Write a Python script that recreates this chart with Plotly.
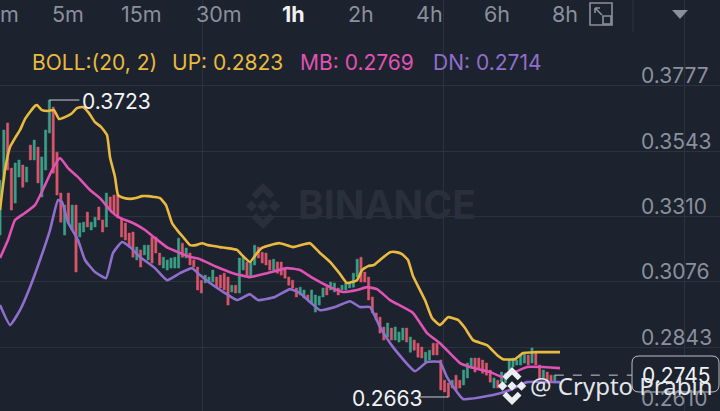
import plotly.graph_objects as go

BG = "#1c222e"
GRID = "#2c323e"
AXIS_TEXT = "#8a909c"
YELLOW = "#e9ba3f"
PINK = "#e052b4"
PURPLE = "#8f6fcb"
RED = "#d9566b"
GREEN = "#3c9f87"
FONT = "Inter"

TABS = ["m", "5m", "15m", "30m", "1h", "2h", "4h", "6h", "8h"]
Y_TICKS = [0.3777, 0.3543, 0.3310, 0.3076, 0.2843, 0.2610]

CANDLE_SPACING = 0.76
OPEN = [.3243,.3439,.3643,.3482,.3357,.3450,.3493,.3432,.3564,.3511,.3557,.3379,.3475,.3607,.3700,.3539,.3393,.3243,.3393,.3261,.3350,.3236,.3254,.3325,.3261,.3272,.3343,.3297,.3272,.3379,.3386,.3386,.3304,.3286,.3250,.3254,.3154,.3190,.3172,.3154,.3236,.3236,.3179,.3125,.3118,.3125,.3125,.3125,.3214,.3161,.3179,.3154,.3129,
        .3082,.3072,.3072,.3075,.3093,.3100,.3107,.3093,.3040,.3064,.3036,.3118,.3147,.3093,.3136,.3200,.3182,.3179,.3154,.3118,.3147,.3147,.3125,.3093,.3082,.3054,.3029,.3018,.3029,.3000,.2968,.2993,.3022,.3057,.3047,.3040,.3054,.3047,.3047,.3054,.3057,.3093,.3164,.3111,.3093,.3022,.2965,.2950,.2915,.2879,.2911,.2868,
        .2861,.2868,.2911,.2825,.2868,.2857,.2843,.2790,.2797,.2857,.2857,.2797,.2725,.2715,.2697,.2743,.2725,.2708,.2733,.2768,.2804,.2804,.2797,.2786,.2761,.2697,.2725,.2718,.2715,.2761,.2772,.2779,.2779,.2786,.2815,.2786,.2825,.2779,.2733,.2754,.2743,.2715]
CLOSE = [.3439,.3618,.3475,.3332,.3500,.3511,.3414,.3486,.3511,.3582,.3429,.3522,.3618,.3725,.3464,.3386,.3289,.3350,.3286,.3350,.3111,.3286,.3289,.3272,.3289,.3307,.3297,.3254,.3393,.3332,.3322,.3304,.3236,.3225,.3200,.3164,.3200,.3129,.3207,.3207,.3143,.3179,.3136,.3164,.3154,.3161,.3164,.3232,.3164,.3197,.3136,.3129,.3047,
         .3036,.3100,.3093,.3118,.3057,.3054,.3047,.2993,.3064,.3036,.3161,.3164,.3100,.3147,.3207,.3161,.3143,.3136,.3118,.3157,.3107,.3100,.3089,.3064,.3054,.3022,.3057,.3047,.3011,.3047,.3029,.3025,.3054,.3029,.3075,.3072,.3029,.3064,.3072,.3072,.3107,.3157,.3075,.3075,.3011,.2965,.2940,.2893,.2868,.2929,.2868,.2915,
         .2897,.2911,.2861,.2879,.2832,.2807,.2804,.2825,.2832,.2815,.2815,.2690,.2683,.2665,.2725,.2690,.2697,.2761,.2786,.2804,.2754,.2768,.2750,.2743,.2718,.2733,.2697,.2754,.2750,.2797,.2804,.2797,.2815,.2825,.2779,.2840,.2779,.2733,.2761,.2715,.2718,.2743]

UP_T = [0,1,2,3,4,5,6,7,7.4,8.4,9.6,10.8,11.8,13,14.2,15.4,16.6,17.8,19,20.2,21.4,22,23,23.6,24.8,26,27.2,28.4,29.6,30.8,32,33.2,34.4,35.6,36.8,38,39.2,40.4,41.6,42.8,44,45.2,47.4,48.6,50,51.4,52.4,54,56,58.6,61,62,64,66,68,69.4,71.4,72.4,73.6,74.8,76,78,79.2,80.4,81.6,82.6,85,86.4,88,89.6,91.6,93,94.6,97.4,99.4,100.6,103,104.6,107,112]
UP = [.3332,.3475,.3557,.3589,.3618,.3657,.3682,.3704,.3707,.3689,.3686,.3689,.3657,.3664,.3675,.3696,.3700,.3678,.3646,.3629,.3600,.3521,.3450,.3386,.3375,.3372,.3375,.3382,.3382,.3379,.3375,.3350,.3286,.3257,.3232,.3207,.3207,.3214,.3207,.3204,.3200,.3197,.3190,.3168,.3147,.3179,.3197,.3207,.3214,.3200,.3211,.3214,.3179,.3147,.3104,.3072,.3082,.3118,.3132,.3136,.3154,.3182,.3182,.3175,.3154,.3097,.3011,.2947,.2922,.2950,.2940,.2911,.2868,.2850,.2815,.2800,.2800,.2822,.2825,.2825]

MB_T = [0,1.6,3,5,7,9,10.4,12,13.6,15.6,18,20,22.4,24,26.6,29,31,33.6,36,38,40,43.4,46.6,50,53.4,57.4,60,62.6,66,68.6,71.4,73.4,75.4,78,82.6,85.4,88,92,94,98,100.6,105.4,112]
MB = [.3161,.3225,.3297,.3322,.3350,.3421,.3475,.3518,.3482,.3450,.3404,.3375,.3325,.3304,.3286,.3261,.3232,.3197,.3179,.3165,.3157,.3129,.3107,.3093,.3107,.3125,.3118,.3089,.3057,.3040,.3047,.3057,.3050,.3011,.2965,.2893,.2857,.2786,.2772,.2754,.2736,.2772,.2768]

DN_T = [0,2,4,6,8,10,11.6,12.4,13.6,15.6,17,19,21.2,22.6,24.4,26,28,31,33.4,36,38.4,40,42,45,47.4,50,51.6,55,58,60,62,64,67,70,72,74,76,78.6,83,85.4,88,89.4,92.6,98.6,102,105.4,112]
DN = [.2993,.2922,.2975,.3057,.3154,.3261,.3368,.3361,.3289,.3225,.3154,.3111,.3089,.3179,.3218,.3200,.3165,.3125,.3082,.3107,.3125,.3100,.3072,.3036,.3011,.3032,.3011,.3022,.3050,.3036,.3004,.2975,.2986,.3007,.2986,.2986,.2915,.2843,.2757,.2790,.2790,.2736,.2658,.2672,.2690,.2718,.2718]

UP_LABEL = "UP: 0.2823"
MB_LABEL = "MB: 0.2769"
DN_LABEL = "DN: 0.2714"
PEAK_LABEL = "0.3723"
PEAK_PRICE = 0.3725
TROUGH_LABEL = "0.2663"
TROUGH_PRICE = 0.2665
LAST_LABEL = "0.2745"
LAST_PRICE = 0.2743

W, H = 720, 411
def px(x): return x / W
def py(y): return 1 - y / H

candle_t = [i * CANDLE_SPACING for i in range(len(OPEN))]
high = [max(o, c) for o, c in zip(OPEN, CLOSE)]
low = [min(o, c) for o, c in zip(OPEN, CLOSE)]

fig = go.Figure()
fig.add_trace(go.Candlestick(
    x=candle_t, open=OPEN, high=high, low=low, close=CLOSE,
    increasing=dict(line=dict(color=GREEN, width=0.5), fillcolor=GREEN),
    decreasing=dict(line=dict(color=RED, width=0.5), fillcolor=RED),
    whiskerwidth=0, showlegend=False, hoverinfo="skip"))
for t, v, c in [(UP_T, UP, YELLOW), (DN_T, DN, PURPLE), (MB_T, MB, PINK)]:
    fig.add_trace(go.Scatter(x=t, y=v, mode="lines", line=dict(color=c, width=2.6, shape="spline", smoothing=0.4),
                             showlegend=False, hoverinfo="skip"))

peak_i = CLOSE.index(max(CLOSE))
trough_i = min(range(len(OPEN)), key=lambda i: low[i])
fig.add_trace(go.Scatter(x=[candle_t[peak_i], candle_t[peak_i] + 6], y=[PEAK_PRICE, PEAK_PRICE], mode="lines",
                         line=dict(color="#c9ccd2", width=1), showlegend=False, hoverinfo="skip"))
fig.add_trace(go.Scatter(x=[candle_t[trough_i], candle_t[trough_i] - 6], y=[TROUGH_PRICE, TROUGH_PRICE], mode="lines",
                         line=dict(color="#c9ccd2", width=1), showlegend=False, hoverinfo="skip"))
fig.add_trace(go.Scatter(x=[candle_t[-1], 126.4], y=[LAST_PRICE, LAST_PRICE], mode="lines",
                         line=dict(color="#c9ccd2", width=1, dash="dash"), showlegend=False, hoverinfo="skip"))

ann = []
def text(x, y, s, size, color, anchor="left", family=FONT, **kw):
    ann.append(dict(xref="paper", yref="paper", x=px(x), y=py(y), text=s, showarrow=False, xanchor=anchor,
                    yanchor="middle", font=dict(family=family, size=size, color=color), **kw))

tab_x = [9, 68, 141, 219, 293, 361, 429, 497, 565]
for s, x in zip(TABS, tab_x):
    active = s == "1h"
    text(x, 14, f"<b>{s}</b>" if active else s, 21.5, "#f0f1f3" if active else AXIS_TEXT, "center")

text(29.5, 62, "BOLL:(20, 2)", 21, YELLOW)
text(169.5, 62, UP_LABEL, 21, YELLOW)
text(297.5, 62, MB_LABEL, 21, PINK)
text(430.5, 62, DN_LABEL, 21, PURPLE)

for v in Y_TICKS[:-1]:
    ann.append(dict(xref="paper", yref="y", x=px(638.5), y=v, yshift=10, text=f"{v:.4f}", showarrow=False,
                    xanchor="left", yanchor="middle", font=dict(family=FONT, size=21, color=AXIS_TEXT)))
text(638.5, 398, f"{Y_TICKS[-1]:.4f}", 21, AXIS_TEXT)

text(79.5, 101, PEAK_LABEL, 21, "#f2f3f5")
text(349.5, 398, TROUGH_LABEL, 21, "#f2f3f5")
text(676, 375, LAST_LABEL, 21, "#f2f3f5", "center")
text(528, 385, "@ Crypto Prabin", 24, "#e4e6ea", family="Noto Sans")
text(296, 205, "<b>BINANCE</b>", 39, "#2a303b")

fig.update_layout(annotations=ann)

shapes = []
def logo(cx, cy, r, color, layer):
    def poly(points):
        d = "M " + " L ".join(f"{px(cx + a * r)},{py(cy + b * r)}" for a, b in points) + " Z"
        shapes.append(dict(type="path", xref="paper", yref="paper", path=d, fillcolor=color,
                           line=dict(width=0), layer=layer))
    poly([(0, -.25), (.25, 0), (0, .25), (-.25, 0)])
    poly([(-.75, 0), (-.5, -.25), (-.25, 0), (-.5, .25)])
    poly([(.75, 0), (.5, -.25), (.25, 0), (.5, .25)])
    poly([(0, -1), (.5, -.5), (.3, -.3), (0, -.6), (-.3, -.3), (-.5, -.5)])
    poly([(0, 1), (.5, .5), (.3, .3), (0, .6), (-.3, .3), (-.5, .5)])

logo(263, 206, 23, "#2a303b", "below")
logo(512, 386, 19, "#eceef1", "above")

x0, x1, y0, y1, r = 632, 719, 356, 392, 7
d = (f"M {px(x0 + r)},{py(y0)} L {px(x1 - r)},{py(y0)} Q {px(x1)},{py(y0)} {px(x1)},{py(y0 + r)} "
     f"L {px(x1)},{py(y1 - r)} Q {px(x1)},{py(y1)} {px(x1 - r)},{py(y1)} L {px(x0 + r)},{py(y1)} "
     f"Q {px(x0)},{py(y1)} {px(x0)},{py(y1 - r)} L {px(x0)},{py(y0 + r)} Q {px(x0)},{py(y0)} {px(x0 + r)},{py(y0)} Z")
shapes.append(dict(type="path", xref="paper", yref="paper", path=d, fillcolor=BG,
                   line=dict(color="#b9bcc3", width=1), layer="above"))

def rect(a, b, c, e, **kw):
    shapes.append(dict(type="rect", xref="paper", yref="paper", x0=px(a), x1=px(c), y0=py(b), y1=py(e), **kw))
rect(590, 3, 612, 25, line=dict(color=AXIS_TEXT, width=1.6), fillcolor=BG)
rect(603, 16, 611, 24, line=dict(color=AXIS_TEXT, width=1.6), fillcolor=BG)
shapes.append(dict(type="path", xref="paper", yref="paper", line=dict(color=AXIS_TEXT, width=1.6),
                   path=f"M {px(595)},{py(8)} L {px(602)},{py(15)} M {px(595)},{py(8)} L {px(600)},{py(8)} M {px(595)},{py(8)} L {px(595)},{py(13)}"))
shapes.append(dict(type="path", xref="paper", yref="paper", fillcolor=AXIS_TEXT, line=dict(width=0),
                   path=f"M {px(672)},{py(10)} L {px(688)},{py(10)} L {px(680)},{py(19)} Z"))
shapes.append(dict(type="line", xref="paper", yref="paper", x0=px(633), x1=px(633), y0=py(0), y1=py(32),
                   line=dict(color=GRID, width=1)))

fig.update_layout(
    width=W, height=H, margin=dict(l=0, r=0, t=0, b=0), autosize=False,
    paper_bgcolor=BG, plot_bgcolor=BG, showlegend=False, shapes=shapes, boxgap=0.15,
    xaxis=dict(range=[0, 144], rangeslider=dict(visible=False), showticklabels=False, zeroline=False,
               tickvals=[40.4, 88.6, 136.8], showgrid=True, gridcolor=GRID, gridwidth=1, ticks=""),
    yaxis=dict(range=[0.2615, 0.4082], showticklabels=False, zeroline=False, tickvals=Y_TICKS,
               showgrid=True, gridcolor=GRID, gridwidth=1, ticks=""),
)
fig.write_html("out.html", config=dict(displayModeBar=False),
               post_script="document.body.style.margin='0';document.body.style.background='#1c222e';")
